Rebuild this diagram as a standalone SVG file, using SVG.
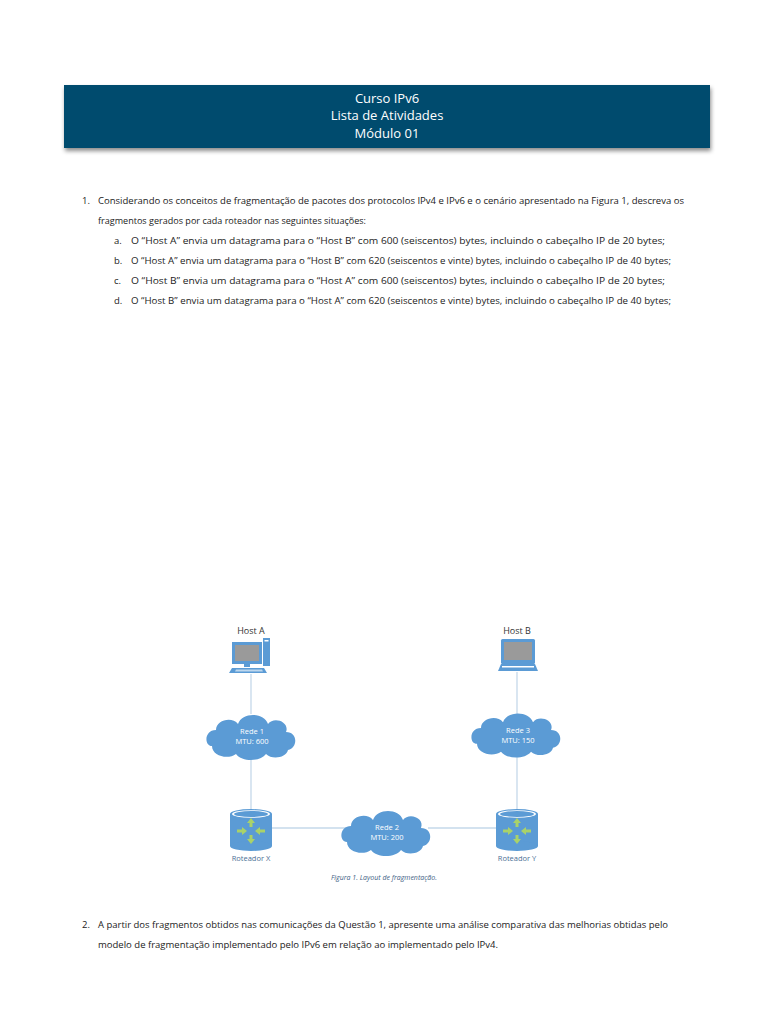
<svg xmlns="http://www.w3.org/2000/svg" width="768" height="1024" viewBox="0 0 768 1024">
<style>
text{font-family:"Open Sans","Liberation Sans",sans-serif;fill:#222}
.b{font-size:9.5px}
.h{font-size:13px;fill:#fff}
.lab{font-size:9px;fill:#333}
.cl{font-size:7.5px;fill:#fff}
.rt{font-size:7.5px;fill:#4a6f96}
.ln{stroke:#c5d8ea;stroke-width:1.3;fill:none}
.cloud{fill:#5b9bd5}
.dev{fill:#5b9bd5}
</style>
<defs>
<filter id="sh" x="-5%" y="-20%" width="110%" height="150%"><feDropShadow dx="1" dy="3" stdDeviation="2" flood-color="#000" flood-opacity="0.45"/></filter>
<g id="cloudShape"><path class="cloud" d="M-40,10 C-48,10 -48,-6 -36,-6 C-36,-16 -20,-20 -14,-12 C-10,-24 12,-24 16,-12 C22,-20 38,-14 34,-4 C46,-4 46,12 36,14 C34,22 20,24 14,18 C8,26 -10,26 -16,18 C-24,24 -40,20 -40,10 Z"/></g>
<g id="router"><ellipse cx="0" cy="-15" rx="21" ry="5" class="dev"/><rect x="-21" y="-15" width="42" height="32" class="dev"/><ellipse cx="0" cy="17" rx="21" ry="5" class="dev"/><ellipse cx="0" cy="-15" rx="19" ry="3.8" fill="#fff"/><ellipse cx="0" cy="-15" rx="17" ry="3" class="dev"/>
<g fill="#a9d26a"><path d="M0,-11 l-4,5 h2.5 v4 h3 v-4 h2.5z"/><path d="M0,15 l-4,-5 h2.5 v-4 h3 v4 h2.5z"/><path d="M-4,2 l-5,-4 v2.5 h-5 v3 h5 v2.5z"/><path d="M4,2 l5,-4 v2.5 h5 v3 h-5 v2.5z"/></g></g>
</defs>
<g id="header" filter="url(#sh)"><rect x="64" y="85" width="646" height="63" fill="#004b6e"/></g>
<text class="h" x="387" y="103" text-anchor="middle">Curso IPv6</text>
<text class="h" x="387" y="120" text-anchor="middle">Lista de Atividades</text>
<text class="h" x="387" y="138" text-anchor="middle">Módulo 01</text>
<g id="q1">
<text class="b" x="82" y="204">1.</text>
<text class="b" x="98" y="204" textLength="586" lengthAdjust="spacingAndGlyphs">Considerando os conceitos de fragmentação de pacotes dos protocolos IPv4 e IPv6 e o cenário apresentado na Figura 1, descreva os</text>
<text class="b" x="98" y="224" textLength="268" lengthAdjust="spacingAndGlyphs">fragmentos gerados por cada roteador nas seguintes situações:</text>
<text class="b" x="114" y="244">a.</text><text class="b" x="131" y="244" textLength="534" lengthAdjust="spacingAndGlyphs">O “Host A” envia um datagrama para o “Host B” com  600 (seiscentos) bytes, incluindo o cabeçalho IP de 20 bytes;</text>
<text class="b" x="114" y="264">b.</text><text class="b" x="131" y="264" textLength="540" lengthAdjust="spacingAndGlyphs">O “Host A” envia um datagrama para o “Host B” com  620 (seiscentos e vinte) bytes, incluindo o cabeçalho IP de 40 bytes;</text>
<text class="b" x="114" y="284">c.</text><text class="b" x="131" y="284" textLength="534" lengthAdjust="spacingAndGlyphs">O “Host B” envia um datagrama para o “Host A” com  600 (seiscentos) bytes, incluindo o cabeçalho IP de 20 bytes;</text>
<text class="b" x="114" y="304">d.</text><text class="b" x="131" y="304" textLength="540" lengthAdjust="spacingAndGlyphs">O “Host B” envia um datagrama para o “Host A” com  620 (seiscentos e vinte) bytes, incluindo o cabeçalho IP de 40 bytes;</text>
</g>
<g id="connectors">
<line class="ln" x1="251" y1="674" x2="251" y2="714"/>
<line class="ln" x1="251" y1="758" x2="251" y2="810"/>
<line class="ln" x1="517" y1="672" x2="517" y2="714"/>
<line class="ln" x1="517" y1="756" x2="517" y2="810"/>
<line class="ln" x1="272" y1="828" x2="346" y2="828"/>
<line class="ln" x1="428" y1="828" x2="497" y2="828"/>
</g>
<g id="hostA">
<text class="lab" x="251" y="634" text-anchor="middle" font-size="10">Host A</text>
<rect x="232" y="642" width="30" height="22" fill="#5b9bd5"/><rect x="235" y="645" width="24" height="16" fill="#9a9a9a"/>
<rect x="263" y="638" width="7" height="28" fill="#5b9bd5"/><rect x="264.5" y="640" width="4" height="1.5" fill="#fff"/>
<rect x="244" y="664" width="6" height="3" fill="#5b9bd5"/>
<path d="M232,668 h32 l3,5 h-38z" fill="#5b9bd5"/><path d="M236,669.5 h26 l1,2 h-28z" fill="#fff" opacity="0.6"/>
</g>
<g id="hostB">
<text class="lab" x="517" y="634" text-anchor="middle" font-size="10">Host B</text>
<rect x="501" y="639" width="34" height="25" rx="1.5" fill="#5b9bd5"/><rect x="504" y="642" width="28" height="18" fill="#9a9a9a"/>
<path d="M501,664 h34 l3,7 h-40z" fill="#5b9bd5"/><rect x="502" y="666" width="32" height="1.5" fill="#fff"/>
</g>
<g id="rede1"><use href="#cloudShape" transform="translate(252,736)"/><text class="cl" x="252" y="734" text-anchor="middle">Rede 1</text><text class="cl" x="252" y="744" text-anchor="middle">MTU: 600</text></g>
<g id="rede3"><use href="#cloudShape" transform="translate(517,734) scale(1,0.98)"/><text class="cl" x="518" y="733" text-anchor="middle">Rede 3</text><text class="cl" x="518" y="743" text-anchor="middle">MTU: 150</text></g>
<g id="rede2"><use href="#cloudShape" transform="translate(387,832)"/><text class="cl" x="387" y="830" text-anchor="middle">Rede 2</text><text class="cl" x="387" y="840" text-anchor="middle">MTU: 200</text></g>
<g id="roteadorX"><use href="#router" transform="translate(251,829)"/><text class="rt" x="251" y="861" text-anchor="middle">Roteador X</text></g>
<g id="roteadorY"><use href="#router" transform="translate(517,829)"/><text class="rt" x="517" y="861" text-anchor="middle">Roteador Y</text></g>
<text x="384" y="880" text-anchor="middle" font-size="7" font-style="italic" fill="#3f5f86" style="fill:#3f5f86">Figura 1. Layout de fragmentação.</text>
<g id="q2">
<text class="b" x="82" y="928">2.</text>
<text class="b" x="98" y="928" textLength="570" lengthAdjust="spacingAndGlyphs">A partir dos fragmentos obtidos nas comunicações da Questão 1, apresente uma análise comparativa das melhorias obtidas pelo</text>
<text class="b" x="98" y="948" textLength="400" lengthAdjust="spacingAndGlyphs">modelo de fragmentação implementado pelo IPv6 em relação ao implementado pelo IPv4.</text>
</g>
</svg>
